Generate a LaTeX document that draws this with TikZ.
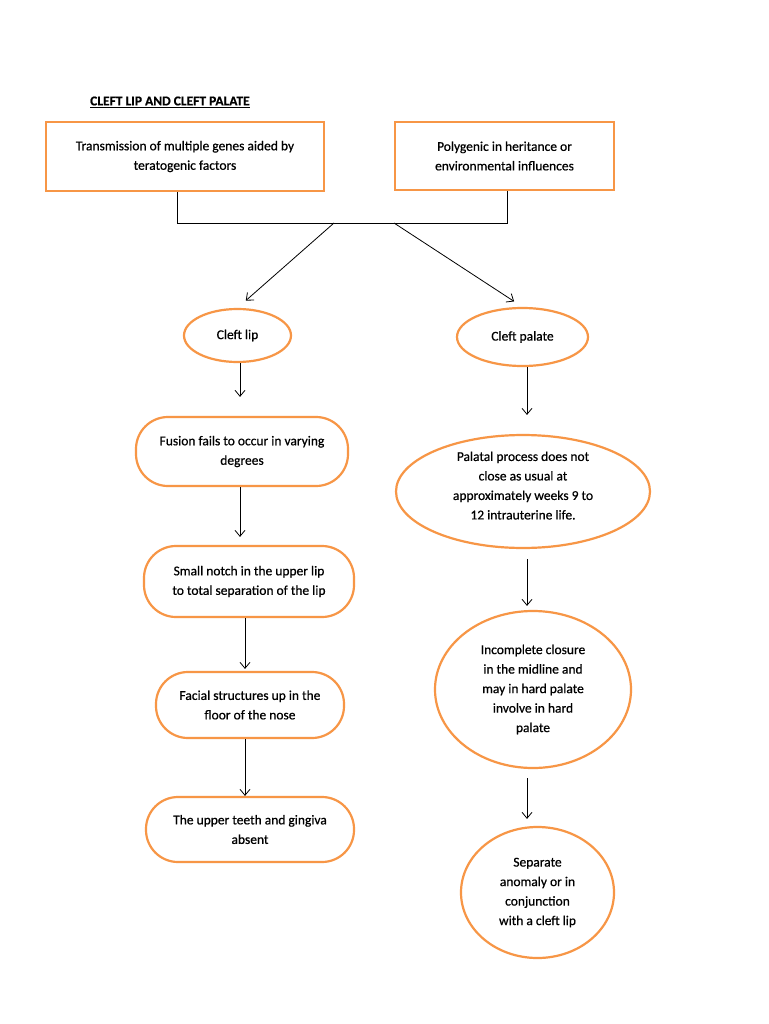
\documentclass[tikz,border=0pt]{standalone}
\usepackage{fontspec}
\setmainfont{Carlito}[FakeBold=0.6]
\usetikzlibrary{shapes.geometric,shadows,arrows.meta}
\definecolor{orng}{HTML}{F79646}
\begin{document}
\begin{tikzpicture}[x=1pt,y=-1pt,
  txt/.style={font=\fontsize{13.5}{19.5}\selectfont, align=center, inner sep=0pt, text=black},
  sqbox/.style={txt, draw=orng, line width=2.4pt, minimum width=#1, minimum height=68pt,
     drop shadow={opacity=0.2, shadow xshift=1.2pt, shadow yshift=-1.2pt}, fill=white},
  rbox/.style={txt, draw=orng, line width=2.2pt, rounded corners=32pt, minimum width=#1, minimum height=68pt},
  ell/.style={txt, draw=orng, line width=2.2pt, ellipse},
  arr/.style={-{Straight Barb[length=6pt,width=10pt,line width=0.8pt]}, black, line width=0.8pt},
  ln/.style={black, line width=0.8pt}]
\useasboundingbox (0,0) rectangle (768,1024);
\fill[white] (0,0) rectangle (768,1024);

\node[txt, font=\fontsize{13.5}{19.5}\selectfont\bfseries, anchor=west] (title) at (90,102) {\underline{CLEFT LIP AND CLEFT PALATE}};

\node[sqbox=278pt, minimum height=69pt] (b1) at (185,156.5) {\rule{0pt}{8pt}Transmission of multiple genes aided by\\teratogenic factors};
\node[sqbox=219pt] (b2) at (504.5,156) {\rule{0pt}{8pt}Polygenic in heritance or\\environmental influences};

\coordinate (j1) at (177,223);
\coordinate (j2) at (507,223);
\coordinate (s1) at (334,223);
\coordinate (s2) at (394,223);

\node[ell, minimum width=107pt, minimum height=53pt] (lip) at (237.5,335.5) {Cleft lip};
\node[ell, minimum width=131pt, minimum height=58pt] (pal) at (522.5,337) {Cleft palate};

\node[rbox=212pt, minimum height=69pt] (f1) at (242,451.5) {Fusion fails to occur in varying\\degrees};
\node[rbox=210pt, minimum height=71pt] (f2) at (249,581.5) {Small notch in the upper lip\\to total separation of the lip};
\node[rbox=188pt, minimum height=66pt] (f3) at (250,705) {Facial structures up in the\\floor of the nose};
\node[rbox=208pt, minimum height=65pt] (f4) at (250,829.5) {The upper teeth and gingiva\\absent};

\node[ell, minimum width=254pt, minimum height=109pt] (p1) at (523,491.5) {Palatal process does not\\close as usual at\\approximately weeks 9 to\\12 intrauterine life.\rule[-12pt]{0pt}{12pt}};
\node[ell, minimum width=196pt, minimum height=157pt] (p2) at (533,689.5) {Incomplete closure\\in the midline and\\may in hard palate\\involve in hard\\palate};
\node[ell, minimum width=153pt, minimum height=131pt] (p3) at (537.5,892.5) {Separate\\anomaly or in\\conjunction\\with a cleft lip};

\coordinate (cA) at (240,0);
\coordinate (cB) at (245,0);
\coordinate (cC) at (527,0);

\draw[ln] (b1.south -| j1) -- (j1) -- (j2) -- (b2.south -| j2);
\draw[arr, shorten >=11pt] (s1) -- (lip.north);
\draw[arr, shorten >=10pt] (s2) -- (pal.north);

\draw[arr, shorten >=19pt] (lip.south -| cA) -- (f1.north -| cA);
\draw[arr, shorten >=8pt] (f1.south -| cA) -- (f2.north -| cA);
\draw[arr, shorten >=2pt] (f2.south -| cB) -- (f3.north -| cB);
\draw[arr] (f3.south -| cB) -- (f4.north -| cB);

\draw[arr, shorten >=19pt] (pal.south -| cC) -- (p1.north -| cC);
\draw[arr, shorten <=10pt, shorten >=4pt] (p1.south -| cC) -- (p2.north -| cC);
\draw[arr, shorten <=9pt, shorten >=7pt] (p2.south -| cC) -- (p3.north -| cC);
\end{tikzpicture}
\end{document}
